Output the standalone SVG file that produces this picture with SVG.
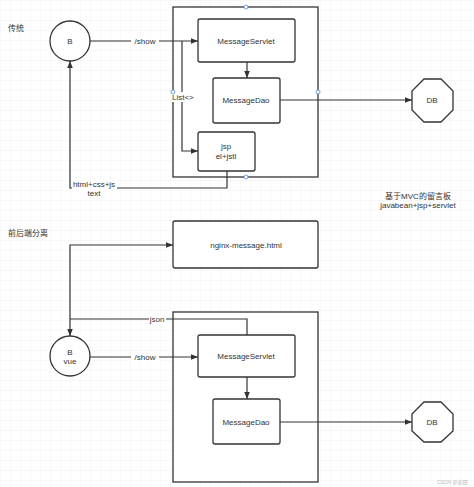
<svg xmlns="http://www.w3.org/2000/svg" width="474" height="487" viewBox="0 0 474 487">
<style>
text{font-family:"Liberation Sans","Noto Sans CJK SC",sans-serif;font-size:8px;fill:#333;}
.c{text-anchor:middle;}
.box{fill:#fff;stroke:#333;stroke-width:1.3;}
.line{fill:none;stroke:#333;stroke-width:1.2;}
.h{fill:#fff;stroke:#4a90d9;stroke-width:0.8;}
</style>
<defs>
<pattern id="grid" width="10" height="10" patternUnits="userSpaceOnUse">
<path d="M10 0H0V10" fill="none" stroke="#e6e6e6" stroke-width="0.6"/>
</pattern>
<marker id="arr" viewBox="0 0 10 10" refX="10" refY="5" markerWidth="7" markerHeight="7" orient="auto" markerUnits="userSpaceOnUse">
<path d="M0 1L10 5L0 9z" fill="#333"/>
</marker>
</defs>
<rect width="474" height="487" fill="#fff"/>
<rect width="474" height="487" fill="url(#grid)"/>

<text x="8" y="31">传统</text>
<text x="8" y="236">前后端分离</text>
<text class="c" x="418" y="199">基于MVC的留言板</text>
<text class="c" x="418" y="208">javabean+jsp+servlet</text>

<g id="container1"><rect class="box" x="173" y="7" width="145" height="170" fill="none"/></g>
<g id="B1"><circle class="box" cx="70" cy="41" r="20"/><text class="c" x="70" y="44">B</text></g>
<g id="servlet1"><rect class="box" x="198" y="19" width="97" height="43" rx="2"/><text class="c" x="246" y="44">MessageServlet</text></g>
<g id="dao1"><rect class="box" x="213" y="78" width="67" height="45" rx="2"/><text class="c" x="246" y="103">MessageDao</text></g>
<g id="jsp"><rect class="box" x="198" y="132" width="57" height="39" rx="2"/><text class="c" x="226" y="149">jsp</text><text class="c" x="226" y="159">el+jstl</text></g>
<g id="db1"><polygon class="box" points="424,79 441,79 453,91 453,110 441,122 424,122 412,110 412,91"/><text class="c" x="432" y="103">DB</text></g>

<g id="container2"><rect class="box" x="173" y="312" width="145" height="170"/></g>
<g id="nginx"><rect class="box" x="173" y="221" width="145" height="47" rx="2"/><text class="c" x="246" y="248">nginx-message.html</text></g>
<g id="B2"><circle class="box" cx="70" cy="356" r="20"/><text class="c" x="70" y="355">B</text><text class="c" x="70" y="364">vue</text></g>
<g id="servlet2"><rect class="box" x="198" y="335" width="97" height="42" rx="2"/><text class="c" x="246" y="359">MessageServlet</text></g>
<g id="dao2"><rect class="box" x="213" y="399" width="67" height="45" rx="2"/><text class="c" x="246" y="425">MessageDao</text></g>
<g id="db2"><polygon class="box" points="424,402 441,402 453,414 453,431 441,442 424,442 412,431 412,414"/><text class="c" x="432" y="425">DB</text></g>

<g id="connectors">
<path class="line" d="M90 41H198" marker-end="url(#arr)"/>
<path class="line" d="M182 41V151H198" marker-end="url(#arr)"/>
<path class="line" d="M247 62V78" marker-end="url(#arr)"/>
<path class="line" d="M280 100H412" marker-end="url(#arr)"/>
<path class="line" d="M227 171V188H70V61" marker-end="url(#arr)"/>
<path class="line" d="M90 357H198" marker-end="url(#arr)"/>
<path class="line" d="M247 377V399" marker-end="url(#arr)"/>
<path class="line" d="M280 422H412" marker-end="url(#arr)"/>
<path class="line" d="M247 335V319H70V336" marker-end="url(#arr)"/>
<path class="line" d="M70 319V245H173" marker-end="url(#arr)"/>
<rect x="131" y="36" width="28" height="10" fill="#fff"/>
<text class="c" x="145" y="44">/show</text>
<rect x="131" y="352" width="28" height="10" fill="#fff"/>
<text class="c" x="145" y="360">/show</text>
<rect x="149" y="314" width="17" height="10" fill="#fff"/>
<text class="c" x="157" y="322">json</text>
<rect x="172" y="92" width="22" height="10" fill="#fff"/>
<text x="172" y="100">List&lt;&gt;</text>
<rect x="72" y="180" width="45" height="20" fill="#fff"/>
<text class="c" x="94" y="187">html+css+js</text>
<text class="c" x="94" y="196">text</text>
</g>

<g id="handles">
<circle class="h" cx="246" cy="7" r="2"/>
<circle class="h" cx="318" cy="92" r="2"/>
<circle class="h" cx="246" cy="177" r="2"/>
<circle class="h" cx="173" cy="92" r="2"/>
</g>
<text x="437" y="484" style="font-size:5px;fill:#bbb">CSDN @稻田</text>
</svg>
